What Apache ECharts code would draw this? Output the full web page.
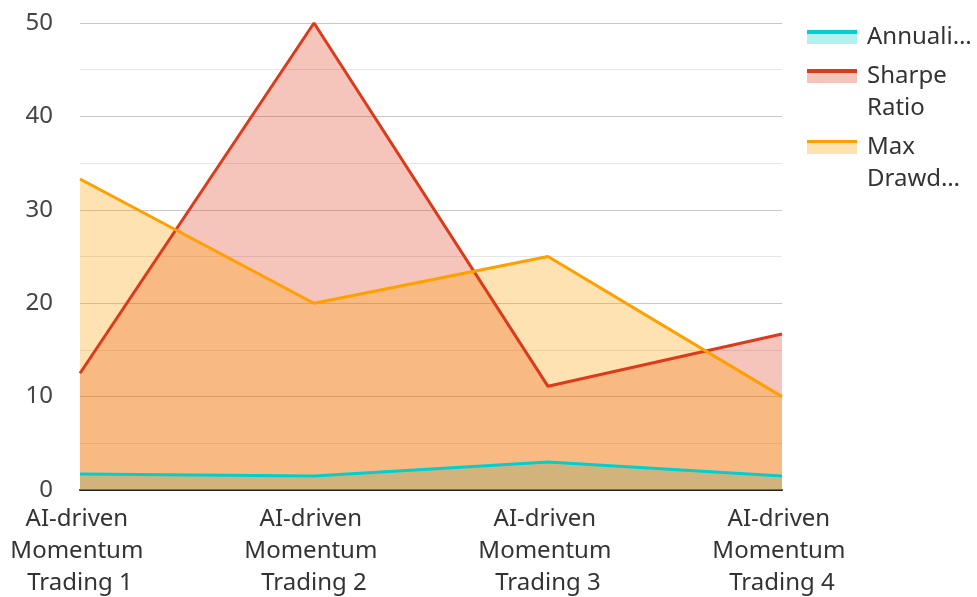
<!DOCTYPE html>
<html><head><meta charset="utf-8">
<script src="https://cdn.jsdelivr.net/npm/echarts@6/dist/echarts.min.js"></script>
<style>html,body{margin:0;padding:0;background:#fff}#c{width:977px;height:597px}</style>
</head><body><div id="c"></div>
<script>
const categories = ['AI-driven Momentum Trading 1','AI-driven Momentum Trading 2','AI-driven Momentum Trading 3','AI-driven Momentum Trading 4'];
const seriesNames = ['Annualized Return','Sharpe Ratio','Max Drawdown'];
const annualizedReturn = [1.7, 1.5, 3.0, 1.5];
const sharpeRatio = [12.5, 50, 11.1, 16.7];
const maxDrawdown = [33.3, 20, 25, 10];
const yTicks = [0, 10, 20, 30, 40, 50];
const legendLabels = ['{t|Annuali…}', '{sp|\u00a0}\n{t|Sharpe}\n{t|Ratio}', '{sp|\u00a0}\n{t|Max}\n{t|Drawd…}'];
const lineColors = ['#00cfcf', '#dd3a1a', '#ff9f00'];

const font = 'Noto Sans';
const chart = echarts.init(document.getElementById('c'));
function s(name, data, color){
  return {name, type:'line', data, symbol:'none', lineStyle:{color, width:3}, itemStyle:{color},
    areaStyle:{color, opacity:0.3}};
}
function iconFill(color){
  const light = echarts.color.modifyAlpha(color, 0.3);
  return {type:'linear', x:0, y:0, x2:0, y2:1, colorStops:[
    {offset:0, color}, {offset:0.25, color}, {offset:0.25, color:light}, {offset:1, color:light}]};
}
chart.setOption({
  animation:false,
  textStyle:{fontFamily:font},
  grid:{left:80, right:195, top:23, bottom:107, outerBoundsMode:'none'},
  legend:{orient:'vertical', left:807, top:21, padding:0, itemWidth:50, itemHeight:14, itemGap:-25,
    data: seriesNames.map((n,i)=>({name:n, icon:'rect', itemStyle:{color:iconFill(lineColors[i])}})),
    formatter:n=>legendLabels[seriesNames.indexOf(n)],
    textStyle:{fontSize:24, color:'#333', fontFamily:font, lineHeight:32,
      rich:{t:{fontSize:24, lineHeight:32, color:'#333', fontFamily:font, padding:[0,0,0,5]},
            sp:{fontSize:24, lineHeight:32}}}},
  xAxis:{type:'category', data:categories, boundaryGap:false,
    axisLine:{lineStyle:{color:'#222', width:2}}, axisTick:{show:false},
    axisLabel:{fontSize:24, color:'#333', width:200, overflow:'break', lineHeight:32, margin:13, interval:0}},
  yAxis:{type:'value', min:yTicks[0], max:yTicks[yTicks.length-1], interval:10,
    axisLine:{show:false}, axisTick:{show:false},
    axisLabel:{fontSize:24, color:'#444', margin:27},
    splitLine:{lineStyle:{color:'#c8c8c8', width:1}},
    minorTick:{show:false, splitNumber:2},
    minorSplitLine:{show:true, lineStyle:{color:'#e6e6e6', width:1}}},
  series:[s(seriesNames[0], annualizedReturn, lineColors[0]), s(seriesNames[1], sharpeRatio, lineColors[1]), s(seriesNames[2], maxDrawdown, lineColors[2])]
});
</script></body></html>
